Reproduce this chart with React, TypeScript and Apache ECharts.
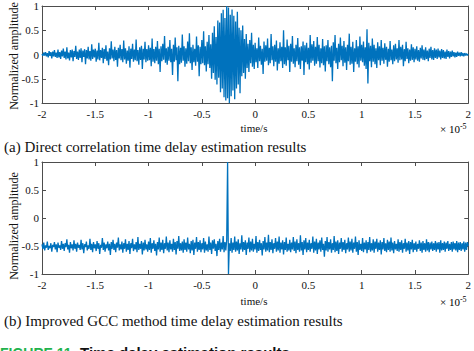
import React, { useEffect, useRef } from "react";
import * as echarts from "echarts";

// time axis (units of 1e-5 s)
const timeStart = -2;
const timeEnd = 2;
const xTicks = [-2, -1.5, -1, -0.5, 0, 0.5, 1, 1.5, 2];
const yTicks = [-1, -0.5, 0, 0.5, 1];

// (a) direct correlation result
const directCorr: number[] = [
  0.01,-0.03,0.04,-0.02,0.05,-0.04,0.03,-0.06,0.07,-0.03,0.05,-0.08,0.06,-0.04,0.09,-0.05,0.04,-0.07,0.1,-0.06,
  0.05,-0.09,0.08,-0.04,0.12,-0.07,0.06,-0.1,0.15,-0.08,0.04,-0.12,0.09,-0.06,0.1,-0.14,0.07,-0.05,0.18,-0.09,
  0.06,-0.11,0.1,-0.07,0.13,-0.16,0.08,-0.05,0.11,-0.2,0.09,-0.08,0.16,-0.1,0.07,-0.13,0.21,-0.09,0.1,-0.06,
  0.12,-0.15,0.08,-0.1,0.24,-0.12,0.09,-0.07,0.14,-0.18,0.11,-0.09,0.19,-0.13,0.06,-0.22,0.13,-0.1,0.27,-0.08,
  0.1,-0.14,0.16,-0.11,0.09,-0.25,0.14,-0.08,0.2,-0.12,0.11,-0.16,0.29,-0.1,0.13,-0.19,0.08,-0.13,0.17,-0.27,
  0.12,-0.09,0.22,-0.15,0.1,-0.12,0.31,-0.14,0.09,-0.21,0.15,-0.11,0.18,-0.3,0.12,-0.1,0.26,-0.16,0.11,-0.13,
  0.19,-0.12,0.14,-0.24,0.33,-0.15,0.11,-0.18,0.16,-0.13,0.28,-0.2,0.12,-0.36,0.17,-0.14,0.22,-0.11,0.38,-0.17,
  0.13,-0.21,0.16,-0.13,0.3,-0.16,0.12,-0.42,0.2,-0.15,0.35,-0.12,0.15,-0.55,0.18,-0.2,0.14,-0.17,0.41,-0.13,
  0.17,-0.25,0.13,-0.19,0.27,-0.14,0.44,-0.18,0.15,-0.32,0.2,-0.16,0.12,-0.23,0.37,-0.15,0.19,-0.45,0.16,-0.2,
  0.3,-0.18,0.48,-0.22,0.17,-0.35,0.26,-0.2,0.4,-0.28,0.21,-0.5,0.45,-0.38,0.58,-0.52,0.36,-0.62,0.7,-0.48,
  0.66,-0.78,0.85,-0.7,0.92,-0.88,0.75,-0.95,1.0,-0.9,0.97,-1.0,0.82,-0.86,0.93,-0.74,0.8,-0.92,0.68,-0.7,
  0.88,-0.62,0.55,-0.8,0.5,-0.45,0.6,-0.38,0.32,-0.5,0.42,-0.28,0.22,-0.36,0.3,-0.18,0.45,-0.25,0.2,-0.3,
  0.24,-0.16,0.13,-0.28,0.35,-0.14,0.18,-0.21,0.12,-0.4,0.27,-0.15,0.19,-0.13,0.33,-0.22,0.14,-0.18,0.42,-0.12,
  0.17,-0.24,0.2,-0.15,0.29,-0.33,0.13,-0.19,0.25,-0.14,0.16,-0.28,0.5,-0.2,0.15,-0.23,0.31,-0.12,0.18,-0.36,
  0.22,-0.15,0.38,-0.19,0.13,-0.26,0.2,-0.14,0.34,-0.21,0.15,-0.3,0.17,-0.13,0.27,-0.42,0.19,-0.16,0.24,-0.2,
  0.14,-0.31,0.4,-0.17,0.21,-0.13,0.28,-0.23,0.16,-0.19,0.36,-0.14,0.2,-0.27,0.13,-0.18,0.32,-0.22,0.17,-0.35,
  0.19,-0.14,0.3,-0.2,0.15,-0.26,0.18,-0.55,0.25,-0.13,0.4,-0.18,0.14,-0.3,0.22,-0.16,0.35,-0.12,0.18,-0.24,
  0.28,-0.17,0.15,-0.32,0.2,-0.14,0.43,-0.21,0.16,-0.19,0.26,-0.36,0.13,-0.15,0.3,-0.2,0.17,-0.27,0.37,-0.13,
  0.2,-0.16,0.27,-0.23,0.15,-0.3,0.52,-0.6,0.24,-0.14,0.18,-0.26,0.33,-0.15,0.2,-0.2,0.13,-0.28,0.25,-0.12,
  0.17,-0.22,0.3,-0.13,0.14,-0.19,0.23,-0.11,0.16,-0.25,0.12,-0.15,0.28,-0.12,0.1,-0.2,0.19,-0.14,0.22,-0.1,
  0.13,-0.17,0.3,-0.12,0.16,-0.1,0.2,-0.24,0.11,-0.14,0.26,-0.09,0.13,-0.18,0.1,-0.13,0.21,-0.11,0.15,-0.16,
  0.12,-0.1,0.17,-0.13,0.09,-0.15,0.14,-0.08,0.19,-0.11,0.1,-0.12,0.15,-0.09,0.08,-0.14,0.12,-0.07,0.16,-0.1,
  0.09,-0.11,0.13,-0.07,0.1,-0.09,0.12,-0.06,0.08,-0.1,0.11,-0.07,0.09,-0.08,0.06,-0.09,0.1,-0.05,0.07,-0.08,
  0.06,-0.05,0.08,-0.04,0.05,-0.06,0.04,-0.05,0.06,-0.03,0.04,-0.04,0.05,-0.03,0.03,-0.04,0.03,-0.02,0.02,-0.02,0.01,
];

// (b) improved GCC result
const improvedGcc: number[] = [
  -0.47,-0.55,-0.44,-0.58,-0.49,-0.53,-0.42,-0.57,-0.5,-0.54,-0.45,-0.6,-0.48,-0.52,-0.43,-0.56,-0.47,-0.61,-0.44,-0.53,
  -0.49,-0.57,-0.41,-0.55,-0.46,-0.59,-0.45,-0.52,-0.38,-0.56,-0.48,-0.62,-0.43,-0.54,-0.47,-0.58,-0.4,-0.55,-0.46,-0.6,
  -0.44,-0.53,-0.48,-0.57,-0.39,-0.56,-0.45,-0.63,-0.47,-0.52,-0.42,-0.58,-0.49,-0.55,-0.37,-0.57,-0.46,-0.61,-0.43,-0.54,
  -0.47,-0.59,-0.41,-0.55,-0.45,-0.64,-0.48,-0.53,-0.36,-0.57,-0.44,-0.6,-0.47,-0.54,-0.42,-0.58,-0.46,-0.66,-0.43,-0.55,
  -0.39,-0.57,-0.46,-0.61,-0.44,-0.53,-0.35,-0.58,-0.47,-0.56,-0.42,-0.62,-0.45,-0.55,-0.38,-0.6,-0.46,-0.57,-0.41,-0.64,
  -0.45,-0.54,-0.37,-0.59,-0.47,-0.56,-0.43,-0.61,-0.34,-0.57,-0.46,-0.55,-0.41,-0.65,-0.44,-0.58,-0.39,-0.56,-0.47,-0.6,
  -0.42,-0.57,-0.36,-0.62,-0.45,-0.55,-0.4,-0.59,-0.46,-0.67,-0.43,-0.56,-0.35,-0.6,-0.44,-0.57,-0.39,-0.63,-0.45,-0.55,
  -0.33,-0.58,-0.44,-0.61,-0.4,-0.56,-0.46,-0.6,-0.37,-0.57,-0.43,-0.65,-0.41,-0.55,-0.32,-0.59,-0.45,-0.58,-0.42,-0.62,
  -0.38,-0.57,-0.44,-0.6,-0.35,-0.56,-0.46,-0.63,-0.41,-0.58,-0.39,-0.66,-0.44,-0.55,-0.34,-0.6,-0.43,-0.57,-0.4,-0.61,
  -0.45,-0.56,-0.36,-0.62,-0.42,-0.58,-0.47,-0.6,-0.33,-0.57,-0.44,-0.64,-0.4,-0.55,-0.38,-0.59,-0.46,-0.68,-0.41,-0.57,
  -0.37,-0.6,-0.44,-0.56,-0.32,-0.61,-0.43,-0.58,-0.39,1.0,-1.0,-0.45,-0.59,-0.36,-0.62,-0.44,-0.57,-0.33,-0.6,-0.42,
  -0.58,-0.38,-0.64,-0.45,-0.56,-0.31,-0.6,-0.43,-0.57,-0.4,-0.66,-0.44,-0.55,-0.35,-0.61,-0.42,-0.58,-0.37,-0.6,-0.46,
  -0.56,-0.32,-0.62,-0.43,-0.59,-0.39,-0.57,-0.45,-0.67,-0.41,-0.56,-0.34,-0.6,-0.44,-0.58,-0.3,-0.61,-0.43,-0.57,-0.38,
  -0.63,-0.45,-0.55,-0.36,-0.6,-0.42,-0.58,-0.33,-0.62,-0.44,-0.56,-0.4,-0.65,-0.43,-0.57,-0.35,-0.6,-0.46,-0.58,-0.39,
  -0.61,-0.44,-0.56,-0.34,-0.59,-0.42,-0.63,-0.38,-0.57,-0.45,-0.6,-0.31,-0.58,-0.43,-0.66,-0.4,-0.56,-0.36,-0.61,-0.44,
  -0.57,-0.39,-0.6,-0.45,-0.55,-0.33,-0.62,-0.42,-0.58,-0.37,-0.64,-0.44,-0.56,-0.4,-0.6,-0.35,-0.57,-0.46,-0.69,-0.41,
  -0.58,-0.34,-0.6,-0.43,-0.56,-0.38,-0.62,-0.45,-0.57,-0.32,-0.61,-0.42,-0.59,-0.4,-0.64,-0.44,-0.55,-0.36,-0.6,-0.43,
  -0.57,-0.39,-0.63,-0.45,-0.56,-0.35,-0.6,-0.42,-0.58,-0.37,-0.62,-0.44,-0.55,-0.33,-0.6,-0.43,-0.66,-0.4,-0.57,-0.46,
  -0.59,-0.36,-0.61,-0.44,-0.56,-0.4,-0.63,-0.43,-0.57,-0.34,-0.6,-0.45,-0.58,-0.38,-0.62,-0.42,-0.55,-0.37,-0.6,-0.44,
  -0.57,-0.4,-0.65,-0.43,-0.56,-0.36,-0.59,-0.45,-0.61,-0.39,-0.57,-0.42,-0.6,-0.35,-0.58,-0.44,-0.63,-0.41,-0.56,-0.46,
  -0.59,-0.38,-0.6,-0.43,-0.57,-0.4,-0.62,-0.45,-0.55,-0.37,-0.6,-0.44,-0.58,-0.41,-0.64,-0.43,-0.56,-0.39,-0.61,-0.45,
  -0.57,-0.42,-0.6,-0.46,-0.55,-0.4,-0.59,-0.44,-0.62,-0.41,-0.57,-0.45,-0.6,-0.38,-0.58,-0.43,-0.61,-0.44,-0.56,-0.42,
  -0.59,-0.45,-0.57,-0.41,-0.6,-0.44,-0.56,-0.43,-0.62,-0.4,-0.58,-0.45,-0.57,-0.42,-0.6,-0.44,-0.55,-0.41,-0.59,-0.46,
  -0.57,-0.43,-0.6,-0.42,-0.56,-0.45,-0.58,-0.41,-0.61,-0.44,-0.57,-0.43,-0.59,-0.45,-0.56,-0.42,-0.6,-0.44,-0.57,-0.43,-0.5,
];

const captionA = "(a) Direct correlation time delay estimation results";
const captionB = "(b) Improved GCC method time delay estimation results";
const figLabel = "FIGURE 11.";
const figTitle = "Time delay estimation results";
const yName = "Normalized amplitude";
const xName = "time/s";

const SERIF = "'Liberation Serif', 'DejaVu Serif', serif";
const SANS = "'Liberation Sans', Arial, sans-serif";
const AXIS_COLOR = "#4d4d4d";
const LINE_COLOR = "#0072BD";

const toPairs = (vals: number[]) =>
  vals.map((v, i) => [timeStart + (i * (timeEnd - timeStart)) / (vals.length - 1), v]);

const fmt = (v: number) => String(Math.round(v * 100) / 100);

export default function App() {
  const ref = useRef<HTMLDivElement>(null);
  useEffect(() => {
    document.body.style.margin = "0";
    if (!ref.current) return;
    const chart = echarts.init(ref.current, undefined, { renderer: "svg" });

    const grids = [
      { left: 42, top: 6, width: 427, height: 97 },
      { left: 42, top: 162, width: 427, height: 112 },
    ];

    const xAxes: any[] = [];
    const yAxes: any[] = [];
    grids.forEach((_, gi) => {
      const xBase = {
        gridIndex: gi,
        type: "value",
        min: xTicks[0],
        max: xTicks[xTicks.length - 1],
        interval: 0.5,
        splitLine: { show: false },
        axisLine: { show: true, onZero: false, lineStyle: { color: AXIS_COLOR, width: 1 } },
        axisTick: { show: true, inside: true, length: 4, lineStyle: { color: AXIS_COLOR } },
      };
      xAxes.push({
        ...xBase,
        position: "bottom",
        axisLabel: {
          show: true,
          formatter: fmt,
          fontFamily: SERIF,
          fontSize: 11,
          color: "#111",
          margin: 5,
          showMinLabel: true,
          showMaxLabel: true,
        },
      });
      xAxes.push({ ...xBase, position: "top", axisLabel: { show: false } });

      const yBase = {
        gridIndex: gi,
        type: "value",
        min: yTicks[0],
        max: yTicks[yTicks.length - 1],
        interval: 0.5,
        splitLine: { show: false },
        axisLine: { show: true, onZero: false, lineStyle: { color: AXIS_COLOR, width: 1 } },
        axisTick: { show: true, inside: true, length: 4, lineStyle: { color: AXIS_COLOR } },
      };
      yAxes.push({
        ...yBase,
        position: "left",
        axisLabel: {
          show: true,
          formatter: fmt,
          fontFamily: SERIF,
          fontSize: 11,
          color: "#111",
          margin: 3,
          showMinLabel: true,
          showMaxLabel: true,
        },
      });
      yAxes.push({ ...yBase, position: "right", axisLabel: { show: false } });
    });

    const serif = (size: number) => ({ fontFamily: SERIF, fontSize: size, fill: "#111" });

    const xMult = (y: number) => ({
      type: "text",
      left: 440,
      top: y,
      style: {
        text: "{a|× 10}{b|-5}",
        rich: {
          a: { fontFamily: SERIF, fontSize: 11, color: "#111" },
          b: { fontFamily: SERIF, fontSize: 8, color: "#111", verticalAlign: "top", padding: [0, 0, 6, 0] },
        },
      },
    });

    chart.setOption({
      animation: false,
      grid: grids,
      xAxis: xAxes,
      yAxis: yAxes,
      series: [
        {
          type: "line",
          xAxisIndex: 0,
          yAxisIndex: 0,
          data: toPairs(directCorr),
          showSymbol: false,
          symbol: "none",
          lineStyle: { color: LINE_COLOR, width: 1.3 },
        },
        {
          type: "line",
          xAxisIndex: 2,
          yAxisIndex: 2,
          data: toPairs(improvedGcc),
          showSymbol: false,
          symbol: "none",
          lineStyle: { color: LINE_COLOR, width: 1.3 },
        },
      ],
      graphic: [
        {
          type: "text",
          x: 14,
          y: 56,
          rotation: Math.PI / 2,
          style: { ...serif(12), text: yName, textAlign: "center", textVerticalAlign: "middle" },
        },
        {
          type: "text",
          x: 14,
          y: 226,
          rotation: Math.PI / 2,
          style: { ...serif(12), text: yName, textAlign: "center", textVerticalAlign: "middle" },
        },
        {
          type: "text",
          x: 254,
          y: 128,
          style: { ...serif(11), text: xName, textAlign: "center", textVerticalAlign: "middle" },
        },
        {
          type: "text",
          x: 254,
          y: 301,
          style: { ...serif(11), text: xName, textAlign: "center", textVerticalAlign: "middle" },
        },
        xMult(122),
        xMult(295),
        {
          type: "text",
          x: 4,
          y: 147,
          style: { ...serif(15), text: captionA, textVerticalAlign: "middle" },
        },
        {
          type: "text",
          x: 4,
          y: 321,
          style: { ...serif(15), text: captionB, textVerticalAlign: "middle" },
        },
        {
          type: "text",
          x: 0,
          y: 346,
          style: {
            text: figLabel,
            fontFamily: SANS,
            fontSize: 14,
            fontWeight: "bold",
            fill: "#22b24c",
            textVerticalAlign: "top",
          },
        },
        {
          type: "text",
          x: 80,
          y: 345,
          style: {
            text: figTitle,
            fontFamily: SANS,
            fontSize: 15,
            fontWeight: "bold",
            fill: "#111",
            textVerticalAlign: "top",
          },
        },
      ],
    });
    return () => chart.dispose();
  }, []);
  return <div ref={ref} style={{ width: 474, height: 351 }} />;
}
